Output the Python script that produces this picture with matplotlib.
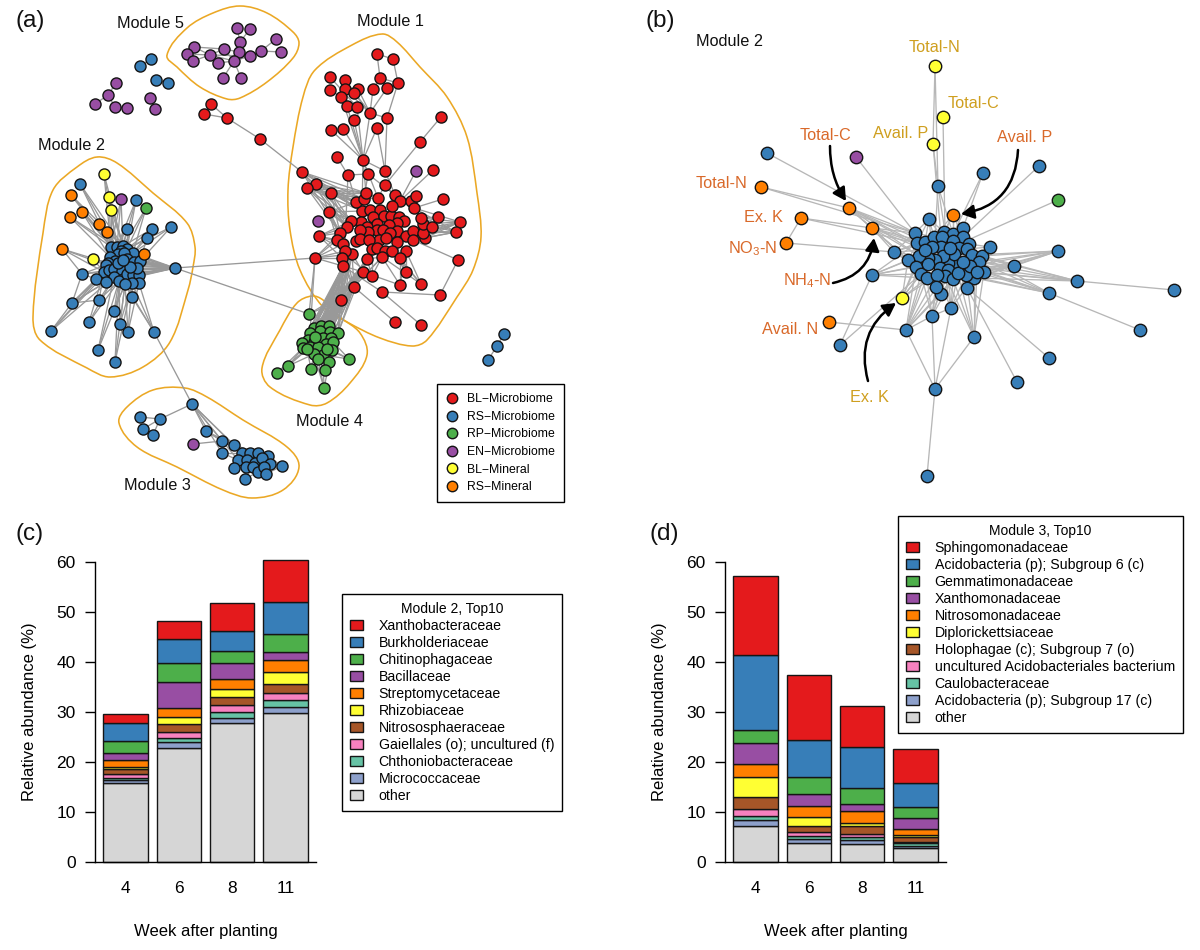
import numpy as np
import matplotlib
matplotlib.use("Agg")
import matplotlib.pyplot as plt
from matplotlib.collections import LineCollection
from matplotlib.lines import Line2D
from matplotlib.patches import FancyArrowPatch, PathPatch, Patch
from matplotlib.path import Path

plt.rcParams['font.family'] = ['Liberation Sans', 'DejaVu Sans']
plt.rcParams['mathtext.default'] = 'regular'

# network layout (x right, y down)
m1_core = [(362,211),(370,210),(380,210),(361,222),(373,217),(384,216),(391,216),(399,217),(404,221),(397,223),
           (389,225),(377,224),(367,227),(377,230),(368,232),(360,230),(397,231),(383,230),(390,233),(406,236),
           (413,231),(413,240),(425,238),(423,233),(423,224),(421,218),(351,221),(347,227),(340,233),(337,240),
           (343,244),(356,241),(360,239),(375,243),(379,240),(386,238),(397,242),(369,240),(372,249),(377,248),
           (385,251),(392,251),(406,251),(400,258),(382,257),(367,259),(352,254),(345,251),(342,258),(343,266),
           (356,202),(364,199),(366,193),(378,198),(395,195),(400,201),(411,201),(416,196),(392,206),(414,208)]
m1_outer = [(377,54),(393,59),(330,77),(345,80),(380,78),(398,83),(330,90),(345,89),(358,89),(354,93),(373,89),
            (387,88),(341,97),(347,106),(357,107),(370,113),(387,118),(441,117),(354,120),(331,130),(343,129),
            (377,128),(420,142),(337,157),(363,160),(433,170),(302,172),(348,175),(368,174),(385,171),(316,184),
            (307,188),(385,185),(331,193),(443,199),(329,212),(319,236),(432,227),(438,217),(460,222),(456,232),
            (315,258),(458,260),(363,272),(372,276),(406,272),(400,285),(421,284),(354,287),(382,292),(440,295),
            (341,300),(395,322),(421,325),(211,104),(204,114),(227,118),(260,139)]
m1_purple = [(318,221),(416,171)]
m1_links = [((377,54),(393,59)),((377,54),(380,78)),((393,59),(398,83)),((380,78),(398,83)),((398,83),(387,118)),
            ((380,78),(373,89)),((387,88),(370,113)),((373,89),(370,113)),((330,77),(357,107)),((345,80),(370,113)),
            ((330,90),(357,107)),((345,89),(370,113)),((358,89),(370,113)),((354,93),(370,113)),((341,97),(363,160)),
            ((347,106),(363,160)),((357,107),(363,160)),((370,113),(363,160)),((370,113),(387,118)),((387,118),(385,171)),
            ((354,120),(363,160)),((331,130),(363,160)),((343,129),(363,160)),((377,128),(363,160)),((377,128),(385,171)),
            ((441,117),(420,142)),((420,142),(385,185)),((337,157),(348,175)),((363,160),(368,174)),((363,160),(385,171)),
            ((363,160),(366,193)),((363,160),(378,198)),((363,160),(362,211)),((348,175),(368,174)),((348,175),(356,202)),
            ((368,174),(395,195)),((368,174),(364,199)),((385,171),(395,195)),((385,185),(378,198)),((385,185),(400,201)),
            ((416,171),(395,210)),((433,170),(400,201)),((443,199),(414,208)),((458,260),(440,295)),((458,260),(413,240)),
            ((382,292),(440,295)),((382,292),(343,266)),((395,322),(354,287)),((421,325),(382,292)),((372,276),(345,255)),
            ((211,104),(227,118)),((204,114),(227,118)),((227,118),(260,139)),((260,139),(302,172)),((400,285),(363,272)),
            ((421,284),(372,250)),((348,175),(345,240))]
m1_fans = [(302,172),(316,184),(307,188),(331,193),(315,258),(319,236),(329,212),(460,222),(456,232),(354,287),(341,300)]

m2_core = [(111,247),(117,247),(123,246),(127,249),(121,251),(133,253),(118,254),(124,253),(110,257),(127,259),(115,261),
           (134,262),(140,261),(108,263),(106,265),(104,272),(109,270),(114,269),(122,271),(114,277),(123,279),(119,281),
           (127,274),(133,275),(139,275),(139,283),(132,283),(125,284),(137,268),(130,267),(118,263),(123,260)]
m2_blue = [(80,184),(136,200),(127,229),(152,229),(171,227),(147,238),(175,268),(82,274),(96,279),(106,282),(72,303),
           (99,300),(132,297),(114,311),(89,322),(120,324),(128,332),(154,332),(51,331),(98,350),(115,362)]
m2_orange = [(71,195),(82,212),(70,217),(99,224),(107,232),(62,249),(144,254)]
m2_yellow = [(104,174),(109,197),(111,210),(93,259)]
m2_purple = [(121,199)]
m2_green = [(146,208)]
m2_links = [((51,331),(72,303)),((72,303),(82,274)),((72,303),(99,300)),((72,303),(106,282)),((62,249),(82,274)),
            ((82,274),(96,279)),((154,332),(132,297)),((154,332),(192,404)),((147,238),(152,229)),((72,303),(96,279))]

m3_core = [(242,453),(250,453),(258,453),(268,456),(238,460),(247,460),(255,463),(262,458),(270,464),(282,466),
           (234,468),(246,467),(253,467),(258,472),(264,467),(266,474),(245,479)]
m3_blue = [(192,404),(140,417),(160,419),(143,429),(153,435),(206,431),(222,441),(234,445),(222,453)]
m3_purple = [(193,444)]
m3_links = [((192,404),(160,419)),((160,419),(140,417)),((160,419),(143,429)),((160,419),(153,435)),((192,404),(206,431)),
            ((192,404),(222,441)),((192,404),(234,445)),((192,404),(222,453)),((192,404),(242,453)),((192,404),(238,460)),
            ((206,431),(222,441)),((206,431),(234,445)),((206,431),(242,453)),((193,444),(222,441)),((222,441),(234,445)),
            ((222,453),(238,460)),((222,453),(242,453)),((234,445),(250,453)),((222,441),(250,453)),((234,445),(258,453))]

m4_core = [(314,328),(321,326),(329,326),(320,331),(310,333),(330,332),(338,333),(308,340),(314,342),(323,338),(331,338),
           (302,343),(303,348),(310,347),(326,344),(333,342),(318,347),(332,350),(323,355),(314,354),(318,359),(307,349),
           (327,349),(315,337)]
m4_outer = [(329,362),(349,359),(288,366),(277,373),(311,369),(325,370),(324,388),(309,314)]
m4_hubs = [(341,300),(354,287),(343,266),(352,254),(367,259)]
m4_links = [((277,373),(288,366)),((288,366),(303,348)),((288,366),(307,349)),((288,366),(310,347)),((277,373),(303,348)),
            ((277,373),(310,347)),((288,366),(314,354)),((309,314),(315,258)),((309,314),(175,268)),((175,268),(315,258)),
            ((309,314),(341,300)),((309,314),(354,287)),((315,258),(310,333))]

m5_nodes = [(237,28),(250,29),(276,39),(240,42),(194,47),(224,49),(281,52),(261,51),(187,54),(210,55),(239,52),(250,56),
            (234,61),(193,61),(218,63),(223,78),(241,78)]
m5_links = [((237,28),(240,42)),((240,42),(239,52)),((250,29),(240,42)),((276,39),(261,51)),((281,52),(261,51)),
            ((261,51),(250,56)),((250,56),(234,61)),((239,52),(234,61)),((224,49),(234,61)),((210,55),(234,61)),
            ((218,63),(234,61)),((223,78),(234,61)),((241,78),(234,61)),((194,47),(187,54)),((187,54),(193,61)),
            ((194,47),(193,61)),((194,47),(210,55)),((187,54),(210,55)),((193,61),(210,55)),((210,55),(218,63)),
            ((210,55),(224,49)),((224,49),(239,52)),((210,55),(250,56)),((239,52),(250,56)),((194,47),(224,49))]

free_blue = [(151,59),(140,66),(156,80),(168,83),(504,334),(497,346),(488,360)]
free_purple = [(116,83),(108,95),(95,104),(115,107),(127,108),(150,98),(155,109)]
free_links = [((151,59),(140,66)),((156,80),(168,83)),((116,83),(108,95)),((108,95),(95,104)),((108,95),(115,107)),
              ((115,107),(127,108)),((150,98),(155,109)),((504,334),(497,346)),((497,346),(488,360))]

# module 2 close-up
b_core = [(915,233),(917,243),(925,242),(934,237),(944,232),(953,234),(963,228),(963,237),(942,237),(953,241),(969,244),
          (959,248),(941,247),(932,247),(967,249),(972,255),(982,256),(979,262),(984,272),(974,278),(966,275),(970,266),
          (956,262),(948,263),(954,254),(943,256),(935,260),(928,258),(919,256),(908,260),(916,267),(921,274),(927,278),
          (928,264),(940,268),(948,270),(945,276),(953,279),(937,275),(958,273),(977,272),(963,262),(950,248),(925,250)]
b_blue = [(767,153),(938,186),(929,219),(983,173),(1039,166),(894,252),(990,247),(1058,251),(1014,266),(1077,281),(1174,290),
          (1049,293),(1140,330),(1049,358),(1017,382),(974,337),(951,308),(932,316),(906,330),(935,389),(927,476),(840,345),
          (872,275),(967,288),(941,294),(936,287)]
b_orange = [(761,187),(849,208),(801,218),(872,228),(786,243),(953,215),(829,322)]
b_yellow = [(935,66),(943,117),(933,144),(902,298)]
b_purple = [(856,157)]
b_green = [(1058,200)]
b_links = [((935,66),(933,144)),((935,66),(938,186)),((943,117),(945,232)),((933,144),(938,186)),((933,144),(941,237)),
           ((761,187),(849,208)),((761,187),(915,233)),((767,153),(915,233)),((801,218),(786,243)),((801,218),(872,228)),
           ((801,218),(917,243)),((786,243),(894,252)),((856,157),(915,233)),((849,208),(872,228)),((872,228),(894,252)),
           ((935,389),(906,330)),((935,389),(932,316)),((935,389),(951,308)),((935,389),(974,337)),((935,389),(927,476)),
           ((829,322),(906,330)),((1174,290),(1077,281)),((1140,330),(1049,293)),((1049,358),(967,288)),((1017,382),(967,288)),
           ((1058,200),(968,240)),((1058,251),(1014,266)),((938,186),(945,232)),((938,186),(935,237)),((938,186),(953,234)),
           ((983,173),(963,228)),((983,173),(953,234)),((1039,166),(963,237)),((840,345),(921,274)),((840,345),(872,275)),
           ((906,330),(932,316)),((932,316),(951,308)),((906,330),(941,294))]
b_fans = [(849,208),(872,228),(929,219),(953,215),(894,252),(990,247),(1058,251),(1014,266),(1077,281),(1049,293),(974,337),
          (951,308),(932,316),(906,330),(902,298),(967,288),(941,294),(936,287),(872,275)]

# module outlines
hull_1 = [(382,34),(352,45),(315,70),(303,97),(293,147),(288,190),(290,230),(300,270),(323,307),(347,322),(380,338),(412,346),
          (427,340),(457,297),(473,270),(481,237),(477,193),(467,137),(447,97),(420,67),(397,42)]
hull_2 = [(97,157),(77,167),(53,190),(43,233),(33,317),(40,340),(87,368),(110,377),(143,367),(170,342),(188,290),(193,267),
          (195,247),(187,223),(153,193),(117,163)]
hull_3 = [(185,388),(153,390),(127,407),(119,423),(137,447),(177,467),(223,490),(252,498),(283,490),(299,467),(287,447),
          (243,420),(207,397)]
hull_4 = [(312,296),(297,303),(280,330),(262,368),(270,387),(310,405),(327,403),(350,383),(367,355),(360,333),(340,317),(323,300)]
hull_5 = [(167,55),(187,28),(213,13),(240,6),(267,13),(293,32),(299,43),(293,58),(267,82),(240,98),(227,99),(200,87),(177,67)]

# bars, top edge of each stacked segment for weeks 4, 6, 8, 11
weeks = ['4', '6', '8', '11']
taxa_c = ['Xanthobacteraceae', 'Burkholderiaceae', 'Chitinophagaceae', 'Bacillaceae', 'Streptomycetaceae', 'Rhizobiaceae',
          'Nitrososphaeraceae', 'Gaiellales (o); uncultured (f)', 'Chthoniobacteraceae', 'Micrococcaceae', 'other']
tops_c = [[15.7, 16.3, 16.8, 17.6, 18.5, 19.0, 20.3, 21.8, 24.2, 27.8, 29.6],
          [22.7, 23.85, 24.8, 25.9, 27.5, 29.0, 30.7, 35.9, 39.75, 44.6, 48.2],
          [27.65, 28.7, 29.9, 31.4, 33.0, 34.5, 36.6, 39.7, 42.15, 46.2, 51.8],
          [29.8, 31.0, 32.4, 33.7, 35.5, 37.9, 40.3, 42.0, 45.6, 51.9, 60.45]]
taxa_d = ['Sphingomonadaceae', 'Acidobacteria (p); Subgroup 6 (c)', 'Gemmatimonadaceae', 'Xanthomonadaceae', 'Nitrosomonadaceae',
          'Diplorickettsiaceae', 'Holophagae (c); Subgroup 7 (o)', 'uncultured Acidobacteriales bacterium', 'Caulobacteraceae',
          'Acidobacteria (p); Subgroup 17 (c)', 'other']
tops_d = [[7.07, 8.33, 9.07, 10.47, 13.0, 17.0, 19.6, 23.67, 26.4, 41.27, 57.13],
          [3.8, 4.47, 5.2, 5.87, 7.2, 8.93, 11.07, 13.47, 17.0, 24.27, 37.4],
          [3.6, 4.27, 4.87, 5.47, 7.07, 7.67, 10.13, 11.47, 14.67, 23.0, 31.13],
          [2.67, 3.13, 3.73, 3.93, 4.87, 5.27, 6.53, 8.67, 11.0, 15.67, 22.47]]
bar_colors = ['#e41a1c', '#377eb8', '#4daf4a', '#984ea3', '#ff7f00', '#ffff33', '#a65628', '#f781bf', '#66c2a5', '#8da0cb', '#d6d6d6']

RED, BLUE, GREEN, PURPLE, YELLOW, ORANGE = '#e41a1c', '#377eb8', '#4daf4a', '#984ea3', '#ffff33', '#ff7f00'
W, H = 1200, 950


def nearest(nodes, core, k):
    # join each node to its k closest core members
    core = np.array(core, dtype=float)
    res = []
    for n in nodes:
        d = np.hypot(core[:, 0] - n[0], core[:, 1] - n[1])
        for i in np.argsort(d)[:k]:
            if d[i] > 0:
                res.append((n, tuple(core[i])))
    return res


def fan(ends, hubs):
    return [(a, b) for a in ends for b in hubs]


def draw_hull(ax, pts):
    # closed smooth curve through the outline points, tangents scaled by segment length
    p = np.array(pts, dtype=float)
    n = len(p)
    tang = np.array([p[(i + 1) % n] - p[i - 1] for i in range(n)])
    tang /= np.hypot(tang[:, 0], tang[:, 1])[:, None]
    verts = [p[0]]
    codes = [Path.MOVETO]
    for i in range(n):
        j = (i + 1) % n
        seg = np.hypot(*(p[j] - p[i])) / 3
        verts += [p[i] + tang[i] * seg, p[j] - tang[j] * seg, p[j]]
        codes += [Path.CURVE4] * 3
    ax.add_patch(PathPatch(Path(verts, codes), fc='none', ec='#eba825', lw=1.15, zorder=1))


def draw_nodes(ax, pts, color, size=64):
    p = np.array(pts, dtype=float)
    ax.scatter(p[:, 0], p[:, 1], s=size, c=color, edgecolors='#141414', linewidths=1.0, zorder=3)


def draw_bars(rect, tops):
    ax = fig.add_axes([rect[0] / W, 1 - 861.5 / H, (rect[1] - rect[0]) / W, 299.5 / H])
    for i, t in enumerate(tops):
        bottom = 0
        for j in range(len(t)):
            # colours run top down, the stack is built from the bottom
            ax.bar(i, t[j] - bottom, bottom=bottom, width=0.835, color=bar_colors[len(t) - 1 - j], edgecolor='#151515',
                   linewidth=1.0, clip_on=False)
            bottom = t[j]
    ax.set_xlim(-0.572, 3.574)
    ax.set_ylim(0, 60)
    for s in ['top', 'right']:
        ax.spines[s].set_visible(False)
    ax.spines['left'].set_linewidth(1.0)
    ax.spines['bottom'].set_linewidth(1.0)
    ax.set_xticks(range(4))
    ax.set_xticklabels(weeks, fontsize=12.5)
    ax.tick_params(axis='x', length=0, pad=14)
    ax.set_yticks(range(0, 61, 10))
    ax.tick_params(axis='y', length=7.5, width=1.0, labelsize=12.5, pad=6.5)
    ax.set_ylabel('Relative abundance (%)', fontsize=12, labelpad=14)
    ax.set_xlabel('Week after planting', fontsize=12, labelpad=20)
    ax.patch.set_alpha(0)
    return ax


def bar_legend(labels, title, x, y):
    handles = [Patch(fc=c, ec='#151515', lw=1.0) for c in bar_colors]
    leg = fig.legend(handles=handles, labels=labels, title=title, loc='upper left', bbox_to_anchor=(x / W, 1 - y / H),
                     bbox_transform=fig.transFigure, fontsize=10.2, title_fontsize=10, fancybox=False, edgecolor='black',
                     framealpha=1, borderaxespad=0, handlelength=0.9, handleheight=0.75, handletextpad=1.1,
                     labelspacing=0.21, borderpad=0.58, alignment='center')
    leg.get_frame().set_linewidth(1.0)
    return leg


fig = plt.figure(figsize=(12, 9.5), dpi=100)
main = fig.add_axes([0, 0, 1, 1])
main.set_xlim(0, W)
main.set_ylim(H, 0)
main.axis('off')

for h in [hull_1, hull_2, hull_3, hull_4, hull_5]:
    draw_hull(main, h)

edges_a = list(m1_links + m2_links + m3_links + m4_links + m5_links + free_links)
edges_a += nearest(m1_core, m1_core, 4) + nearest(m1_fans, m1_core, 7)
edges_a += nearest([(363,272),(372,276),(406,272),(400,285),(421,284),(432,227),(438,217)], m1_core, 3)
edges_a += nearest(m2_core, m2_core, 4)
edges_a += nearest(m2_blue + m2_orange + m2_yellow + m2_purple + m2_green, m2_core, 3)
edges_a += fan([(175,268)], m2_core[4:24])
edges_a += nearest(m3_core, m3_core, 4) + nearest(m4_core, m4_core, 4) + nearest(m4_outer[:2] + m4_outer[4:7], m4_core, 4)
edges_a += fan(m4_core[:14], m4_hubs)
main.add_collection(LineCollection(edges_a, colors='#999999', linewidths=0.95, zorder=2))

draw_nodes(main, m1_core + m1_outer, RED)
draw_nodes(main, m1_purple + m2_purple + m3_purple + m5_nodes + free_purple, PURPLE)
draw_nodes(main, m2_core + m2_blue + m3_core + m3_blue + free_blue, BLUE)
draw_nodes(main, m2_orange, ORANGE)
draw_nodes(main, m2_yellow, YELLOW)
draw_nodes(main, m2_green + m4_core + m4_outer, GREEN)

edges_b = list(b_links) + nearest(b_core, b_core, 5) + nearest(b_fans, b_core, 7)
main.add_collection(LineCollection(edges_b, colors='#b7b7b7', linewidths=0.95, zorder=2))
draw_nodes(main, b_core + b_blue, BLUE, 80)
draw_nodes(main, b_orange, ORANGE, 80)
draw_nodes(main, b_yellow, YELLOW, 80)
draw_nodes(main, b_purple, PURPLE, 80)
draw_nodes(main, b_green, GREEN, 80)

for lab, x, y in [('(a)', 30, 21), ('(b)', 660, 21), ('(c)', 30, 534), ('(d)', 664, 534)]:
    main.text(x, y, lab, fontsize=17.5, ha='center', va='center', color='#111111')
for lab, x, y in [('Module 1', 390, 22), ('Module 5', 150, 23), ('Module 2', 72, 145), ('Module 3', 157, 485),
                  ('Module 4', 330, 421), ('Module 2', 730, 42)]:
    main.text(x, y, lab, fontsize=11.7, ha='center', va='center', color='#111111')

ORANGE_TXT, YELLOW_TXT = '#d9692a', '#cf9f1f'
for lab, x, y in [('Total-C', 825, 135), ('Avail. P', 1025, 137), ('Total-N', 722, 184), ('Ex. K', 763, 218),
                  ('NO$_3$-N', 753, 249), ('NH$_4$-N', 807, 281), ('Avail. N', 790, 330)]:
    main.text(x, y, lab, fontsize=11.7, ha='center', va='center', color=ORANGE_TXT)
for lab, x, y in [('Total-N', 935, 47), ('Total-C', 974, 104), ('Avail. P', 901, 133), ('Ex. K', 869, 398)]:
    main.text(x, y, lab, fontsize=11.7, ha='center', va='center', color=YELLOW_TXT)

for a, b, rad in [((830, 146), (846, 201), 0.15), ((833, 283), (874, 238), 0.35), ((1018, 150), (961, 214), -0.4),
                  ((868, 381), (896, 303), -0.35)]:
    main.add_patch(FancyArrowPatch(a, b, connectionstyle=f'arc3,rad={rad}', arrowstyle='-|>,head_length=0.55,head_width=0.3',
                                   mutation_scale=14, lw=1.8, color='black', shrinkA=0, shrinkB=0, zorder=4))

net_labels = ['BL\u2212Microbiome', 'RS\u2212Microbiome', 'RP\u2212Microbiome', 'EN\u2212Microbiome', 'BL\u2212Mineral', 'RS\u2212Mineral']
net_colors = [RED, BLUE, GREEN, PURPLE, YELLOW, ORANGE]
net_handles = [Line2D([], [], ls='none', marker='o', ms=7.5, mfc=c, mec='#141414', mew=1.0) for c in net_colors]
leg = fig.legend(handles=net_handles, labels=net_labels, loc='upper left', bbox_to_anchor=(437 / W, 1 - 384 / H),
                 bbox_transform=fig.transFigure, fontsize=8.8, fancybox=False, edgecolor='black', framealpha=1, borderaxespad=0,
                 handlelength=1.0, handletextpad=0.7, labelspacing=0.46, borderpad=0.75)
leg.get_frame().set_linewidth(1.0)

draw_bars((95, 316), tops_c)
draw_bars((725, 946), tops_d)
bar_legend(taxa_c, 'Module 2, Top10', 342, 594)
bar_legend(taxa_d, 'Module 3, Top10', 898, 516)

fig.savefig('out.png', dpi=100)
